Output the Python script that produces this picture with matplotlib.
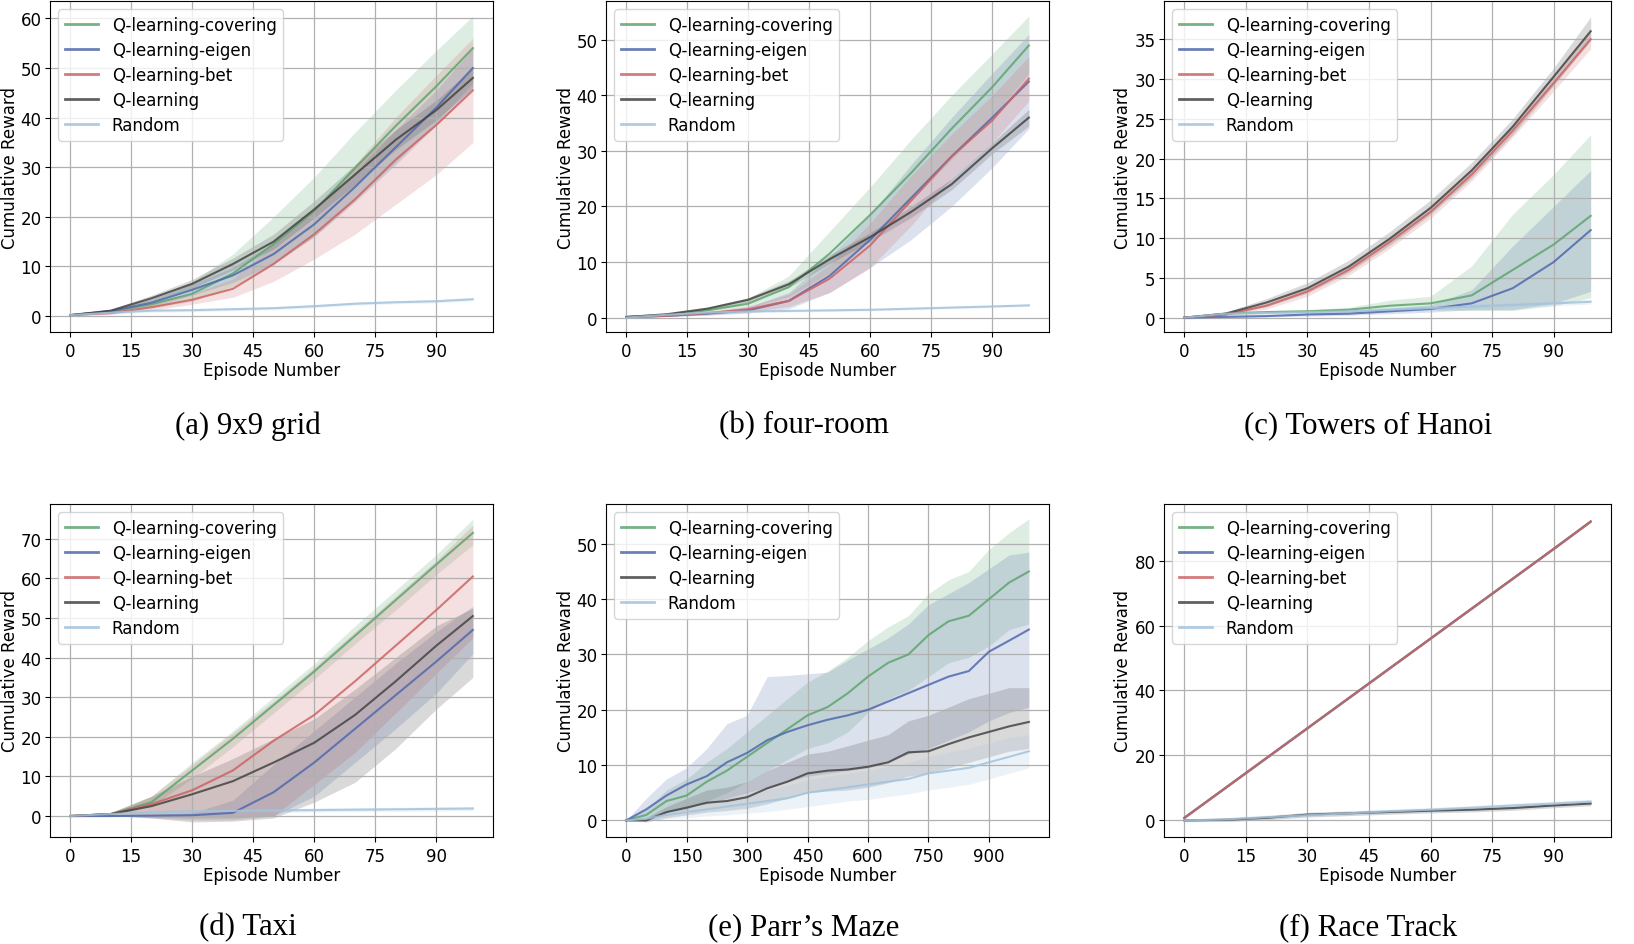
import numpy as np
import matplotlib
matplotlib.use('Agg')
import matplotlib.pyplot as plt

# episode knots
ep = [0, 10, 20, 30, 40, 50, 60, 70, 80, 90, 99]
ep_maze = [0, 50, 100, 150, 200, 250, 300, 350, 400, 450, 500, 550, 600,
           650, 700, 750, 800, 850, 900, 950, 999]

labels = ['Q-learning-covering', 'Q-learning-eigen', 'Q-learning-bet',
          'Q-learning', 'Random']
colors = ['#5ea56e', '#5069ad', '#cc6464', '#444444', '#a3c3dd']

# (a) 9x9 grid
a_cov = [0.2, 0.9, 2.4, 4.5, 8.6, 14.5, 21.2, 29.8, 38.3, 46.3, 54]
a_cov_lo = [0.1, 0.6, 1.6, 3.0, 6.0, 10.5, 16.0, 23.5, 31, 39, 47]
a_cov_hi = [0.3, 1.3, 3.5, 7.0, 12.5, 20, 28, 37, 45.5, 53.5, 60.5]
a_eig = [0.2, 1.0, 2.7, 5.3, 8.2, 12.5, 18.5, 26, 34, 42, 50]
a_eig_lo = [0.1, 0.7, 2.0, 4.2, 6.8, 10.5, 16, 23, 30.5, 38.5, 46]
a_eig_hi = [0.3, 1.3, 3.4, 6.4, 9.8, 14.8, 21.5, 29, 37.5, 45.5, 54]
a_bet = [0.2, 0.6, 1.8, 3.3, 5.5, 10.5, 16.5, 23.5, 31.5, 38.5, 45.5]
a_bet_lo = [0.1, 0.4, 1.2, 2.4, 3.8, 7, 11.5, 16.5, 22.5, 28.5, 35]
a_bet_hi = [0.3, 0.9, 2.6, 4.5, 7.5, 14.5, 21.5, 30.5, 40, 48.5, 56]
a_ql = [0.2, 1.1, 3.6, 6.5, 10.5, 15, 21.5, 28.5, 35.5, 41.5, 48]
a_ql_lo = [0.1, 0.8, 3.0, 5.6, 9.3, 13.5, 19.8, 26.5, 33.5, 39.5, 46]
a_ql_hi = [0.3, 1.4, 4.2, 7.4, 11.7, 16.5, 23.2, 30.5, 37.5, 43.5, 50]
a_rnd = [0.2, 0.7, 1.1, 1.2, 1.4, 1.6, 2.0, 2.5, 2.8, 3.0, 3.4]
a_rnd_lo = [0.0, 0.4, 0.8, 0.9, 1.1, 1.3, 1.7, 2.2, 2.5, 2.7, 3.1]
a_rnd_hi = [0.4, 1.0, 1.4, 1.5, 1.7, 1.9, 2.3, 2.8, 3.1, 3.3, 3.7]

# (b) four-room
b_cov = [0.1, 0.5, 1.3, 2.5, 5.5, 11.5, 18.5, 26, 34, 41.5, 49]
b_cov_lo = [0, 0.3, 0.9, 1.8, 3.8, 8, 14, 21, 28.5, 36, 44]
b_cov_hi = [0.2, 0.7, 1.8, 3.5, 7.5, 15.5, 23.5, 32, 40, 47.5, 54.3]
b_eig = [0.1, 0.3, 0.7, 1.3, 3.0, 7.5, 14, 21.5, 29, 36, 42.5]
b_eig_lo = [0, 0.2, 0.4, 0.8, 1.6, 4.5, 9, 14, 20, 27, 34]
b_eig_hi = [0.2, 0.4, 1.0, 1.9, 4.5, 11, 18.5, 27.5, 36, 44, 51]
b_bet = [0.1, 0.3, 0.8, 1.5, 3.0, 7, 13, 21, 29, 35.5, 43]
b_bet_lo = [0, 0.2, 0.5, 1.0, 2.0, 4.5, 9, 16.5, 25, 31.5, 39]
b_bet_hi = [0.2, 0.4, 1.1, 2.0, 4.2, 9.5, 17, 25.5, 33, 40, 47]
b_ql = [0.1, 0.6, 1.6, 3.2, 6.0, 10.5, 14.5, 19, 24, 30.5, 36]
b_ql_lo = [0, 0.4, 1.3, 2.8, 5.4, 9.7, 13.7, 18, 23, 29.5, 34.5]
b_ql_hi = [0.2, 0.8, 1.9, 3.6, 6.6, 11.3, 15.3, 20, 25, 31.5, 37.5]
b_rnd = [0, 0.5, 0.9, 1.1, 1.2, 1.3, 1.4, 1.6, 1.8, 2.0, 2.2]
b_rnd_lo = [-0.2, 0.3, 0.7, 0.9, 1.0, 1.1, 1.2, 1.4, 1.6, 1.8, 2.0]
b_rnd_hi = [0.2, 0.7, 1.1, 1.3, 1.4, 1.5, 1.6, 1.8, 2.0, 2.2, 2.4]

# (c) Towers of Hanoi
c_cov = [0, 0.5, 0.7, 0.8, 1.0, 1.5, 1.8, 2.8, 6.0, 9.2, 12.8]
c_cov_lo = [0, 0.3, 0.5, 0.6, 0.7, 0.9, 1.0, 0.9, 0.9, 1.5, 2.5]
c_cov_hi = [0, 0.7, 0.9, 1.0, 1.3, 2.2, 2.7, 6.5, 13, 18, 23]
c_eig = [0, 0.1, 0.2, 0.4, 0.5, 0.8, 1.1, 1.8, 3.7, 7.0, 11]
c_eig_lo = [0, 0.0, 0.1, 0.2, 0.3, 0.5, 0.7, 1.0, 1.0, 1.8, 3.3]
c_eig_hi = [0, 0.2, 0.3, 0.6, 0.8, 1.2, 1.6, 3.5, 9.0, 14, 18.5]
c_bet = [0, 0.4, 1.5, 3.3, 6.0, 9.5, 13.3, 18, 23.5, 29.5, 35]
c_bet_lo = [0, 0.3, 1.1, 2.7, 5.3, 8.7, 12.5, 17.2, 22.7, 28.5, 33.8]
c_bet_hi = [0, 0.5, 1.8, 3.8, 6.6, 10.2, 14.1, 18.8, 24.3, 30.5, 36.2]
c_ql = [0, 0.5, 1.9, 3.7, 6.4, 9.9, 13.8, 18.5, 24, 30.3, 36]
c_ql_lo = [0, 0.3, 1.4, 3.1, 5.7, 9.1, 13, 17.6, 23, 29.2, 34.8]
c_ql_hi = [0, 0.7, 2.4, 4.4, 7.2, 10.8, 14.8, 19.5, 25, 31.4, 37.8]
c_rnd = [0, 0.5, 0.6, 0.7, 0.8, 1.0, 1.2, 1.4, 1.6, 1.8, 2.0]
c_rnd_lo = [-0.2, 0.2, 0.3, 0.4, 0.5, 0.7, 0.9, 1.1, 1.3, 1.5, 1.7]
c_rnd_hi = [0.2, 0.8, 0.9, 1.0, 1.1, 1.3, 1.5, 1.7, 1.9, 2.1, 2.3]

# (d) Taxi
d_cov = [0, 0.5, 3.5, 11.5, 19.5, 28, 36.5, 45.5, 54.5, 63.5, 71.5]
d_cov_lo = [0, 0.3, 2.5, 9.5, 17.5, 26, 34.5, 43.5, 52, 61, 68.5]
d_cov_hi = [0, 0.8, 5, 13.5, 21.5, 30, 38.5, 48, 57, 66, 75]
d_eig = [0, 0, 0.1, 0.2, 0.8, 6, 13.5, 22, 30.5, 39, 47]
d_eig_lo = [0, 0, -0.3, -0.5, -0.5, 0, 5, 13.5, 22, 31, 41]
d_eig_hi = [0, 0.1, 0.4, 0.8, 4, 13, 21.5, 30, 38.5, 46.5, 53]
d_bet = [0, 0.5, 3.0, 6.5, 11.5, 19, 25.5, 34, 43, 52, 60.5]
d_bet_lo = [0, 0.1, -0.5, -1.0, -1.0, 0, 8, 16, 26, 36, 45]
d_bet_hi = [0, 0.8, 5, 13, 21, 29, 37.5, 46.5, 55.5, 64.5, 73.5]
d_ql = [0, 0.5, 2.5, 5.5, 8.8, 13.5, 18.5, 25.5, 34, 43, 50.5]
d_ql_lo = [0, 0.2, -0.5, -1.5, -1.3, -0.5, 3.5, 8.5, 17, 27, 35]
d_ql_hi = [0, 0.9, 5, 10, 14.5, 19.5, 24.5, 32, 40, 48, 52.5]
d_rnd = [0, 0.5, 0.9, 1.2, 1.3, 1.4, 1.5, 1.6, 1.7, 1.8, 1.9]
d_rnd_lo = [-0.4, 0.1, 0.4, 0.7, 0.8, 0.9, 1.0, 1.1, 1.2, 1.3, 1.4]
d_rnd_hi = [0.4, 0.9, 1.4, 1.7, 1.8, 1.9, 2.0, 2.1, 2.2, 2.3, 2.4]

# (e) Parr's Maze (no bet curve)
e_cov = [0, 1.0, 3.5, 4.5, 7.0, 9.0, 11.5, 14.0, 16.5, 19.0, 20.5, 23.0,
         26.0, 28.5, 30.0, 33.5, 36.0, 37.0, 40.0, 43.0, 45.0]
e_cov_lo = [0, 0.2, 1.5, 2.0, 3.5, 5.0, 7.0, 9.0, 11.0, 13.0, 14.0, 16.0,
            19.5, 22.0, 23.5, 26.0, 28.5, 29.5, 31.5, 34.5, 35.5]
e_cov_hi = [0, 2.0, 5.5, 7.5, 10.5, 13.0, 16.0, 19.0, 22.0, 25.0, 27.0, 29.5,
            32.5, 35.0, 37.0, 41.0, 43.5, 45.0, 49.0, 52.0, 54.5]
e_eig = [0, 2.0, 4.5, 6.5, 8.0, 10.5, 12.2, 14.5, 16.0, 17.2, 18.2, 19.0,
         20.0, 21.5, 23.0, 24.5, 26.0, 27.0, 30.5, 32.5, 34.5]
e_eig_lo = [0, 0.3, 1.5, 2.5, 3.0, 4.0, 5.0, 6.0, 7.0, 8.0, 8.5, 9.0,
            9.5, 10.5, 12, 13, 14.5, 16, 18, 19.5, 20.5]
e_eig_hi = [0, 4, 7.5, 9.5, 13, 17.5, 19, 26, 26.2, 26.5, 26.8, 29,
            31, 33, 35.5, 39, 41, 43, 45.5, 48, 48.5]
e_ql = [0, 0, 1.5, 2.3, 3.2, 3.5, 4.2, 5.8, 7.0, 8.5, 9.0, 9.2,
        9.7, 10.5, 12.3, 12.5, 13.8, 15.0, 16.0, 17.0, 17.8]
e_ql_lo = [0, -0.3, 0.5, 1.0, 1.5, 1.8, 2.2, 3.0, 4.0, 5.0, 5.3, 5.5,
           6.0, 6.8, 8.0, 8.5, 9.5, 10.5, 11.5, 12.5, 13.0]
e_ql_hi = [0, 0.5, 2.5, 4.0, 5.5, 6.0, 7.0, 9.0, 10.5, 12.0, 12.5, 13.5,
           14.5, 15.5, 18.0, 19.0, 20.5, 22.0, 23.0, 24.0, 24.0]
e_rnd = [0, 0.3, 1.0, 1.5, 2.0, 2.5, 3.0, 3.5, 4.0, 5.0, 5.5, 6.0,
         6.5, 7.0, 7.5, 8.5, 9.0, 9.5, 10.5, 11.5, 12.5]
e_rnd_lo = [0, 0, 0.3, 0.5, 0.8, 1.0, 1.3, 1.6, 2.0, 2.5, 3.0, 3.5,
            3.8, 4.3, 4.8, 5.5, 6.0, 6.5, 7.5, 8.5, 9.5]
e_rnd_hi = [0, 0.7, 1.8, 2.6, 3.3, 4.0, 4.8, 5.5, 6.3, 7.3, 8.0, 8.5,
            9.0, 9.8, 10.5, 11.5, 12.3, 13, 14, 15, 15.5]

# (f) Race Track: covering, eigen and bet overlap
f_opt = [0.8, 10, 19.2, 28.4, 37.6, 46.8, 56, 65.2, 74.4, 83.6, 92]
f_opt_lo = [0.5, 9.7, 18.9, 28.1, 37.3, 46.5, 55.7, 64.9, 74.1, 83.3, 91.7]
f_opt_hi = [1.1, 10.3, 19.5, 28.7, 37.9, 47.1, 56.3, 65.5, 74.7, 83.9, 92.3]
f_ql = [0, 0.2, 0.8, 1.8, 2.2, 2.6, 3.0, 3.3, 3.8, 4.6, 5.2]
f_ql_lo = [-0.3, -0.3, 0.2, 1.1, 1.5, 1.9, 2.3, 2.6, 3.1, 3.9, 4.5]
f_ql_hi = [0.3, 0.7, 1.4, 2.5, 2.9, 3.3, 3.7, 4.0, 4.5, 5.3, 5.9]
f_rnd = [0, 0.3, 1.0, 1.6, 2.2, 2.8, 3.3, 3.9, 4.6, 5.2, 5.8]
f_rnd_lo = [-0.5, -0.3, 0.3, 0.9, 1.5, 2.1, 2.6, 3.2, 3.9, 4.5, 5.1]
f_rnd_hi = [0.5, 0.9, 1.7, 2.3, 2.9, 3.5, 4.0, 4.6, 5.3, 5.9, 6.5]

captions = ['(a) 9x9 grid', '(b) four-room', '(c) Towers of Hanoi',
            '(d) Taxi', '(e) Parr\u2019s Maze', '(f) Race Track']

panels = [
    (ep, [(a_cov, a_cov_lo, a_cov_hi, 0), (a_eig, a_eig_lo, a_eig_hi, 1),
          (a_bet, a_bet_lo, a_bet_hi, 2), (a_ql, a_ql_lo, a_ql_hi, 3),
          (a_rnd, a_rnd_lo, a_rnd_hi, 4)],
     (-3.2, 63.5), np.arange(0, 61, 10), np.arange(0, 91, 15)),
    (ep, [(b_cov, b_cov_lo, b_cov_hi, 0), (b_eig, b_eig_lo, b_eig_hi, 1),
          (b_bet, b_bet_lo, b_bet_hi, 2), (b_ql, b_ql_lo, b_ql_hi, 3),
          (b_rnd, b_rnd_lo, b_rnd_hi, 4)],
     (-2.6, 57.0), np.arange(0, 51, 10), np.arange(0, 91, 15)),
    (ep, [(c_cov, c_cov_lo, c_cov_hi, 0), (c_eig, c_eig_lo, c_eig_hi, 1),
          (c_bet, c_bet_lo, c_bet_hi, 2), (c_ql, c_ql_lo, c_ql_hi, 3),
          (c_rnd, c_rnd_lo, c_rnd_hi, 4)],
     (-1.8, 39.8), np.arange(0, 36, 5), np.arange(0, 91, 15)),
    (ep, [(d_cov, d_cov_lo, d_cov_hi, 0), (d_eig, d_eig_lo, d_eig_hi, 1),
          (d_bet, d_bet_lo, d_bet_hi, 2), (d_ql, d_ql_lo, d_ql_hi, 3),
          (d_rnd, d_rnd_lo, d_rnd_hi, 4)],
     (-5.3, 78.8), np.arange(0, 71, 10), np.arange(0, 91, 15)),
    (ep_maze, [(e_cov, e_cov_lo, e_cov_hi, 0), (e_eig, e_eig_lo, e_eig_hi, 1),
               (e_ql, e_ql_lo, e_ql_hi, 3), (e_rnd, e_rnd_lo, e_rnd_hi, 4)],
     (-3.0, 57.2), np.arange(0, 51, 10), np.arange(0, 901, 150)),
    (ep, [(f_opt, f_opt_lo, f_opt_hi, 0), (f_opt, f_opt_lo, f_opt_hi, 1),
          (f_opt, f_opt_lo, f_opt_hi, 2), (f_ql, f_ql_lo, f_ql_hi, 3),
          (f_rnd, f_rnd_lo, f_rnd_hi, 4)],
     (-5.1, 97.4), np.arange(0, 81, 20), np.arange(0, 91, 15)),
]

W, H = 1634, 945
fig = plt.figure(figsize=(W / 100, H / 100), dpi=100)

col_left = [50, 606, 1164]
col_w = [443, 443, 447]
row_top = [2, 505]
row_h = [331, 333]
cap_x = [248, 804, 1368]
cap_y = [426, 928]

for k, (x, series, ylim, yt, xt) in enumerate(panels):
    r, c = divmod(k, 3)
    ax = fig.add_axes([col_left[c] / W, 1 - (row_top[r] + row_h[r]) / H,
                       col_w[c] / W, row_h[r] / H])
    for mean, lo, hi, ci in series:
        ax.fill_between(x, lo, hi, color=colors[ci], alpha=0.2, linewidth=0)
        ax.plot(x, mean, color=colors[ci], lw=1.5, alpha=0.85,
                label=labels[ci])
    ax.set_xlim(-0.05 * x[-1], 1.05 * x[-1])
    ax.set_ylim(*ylim)
    ax.set_yticks(yt)
    ax.set_xticks(xt)
    ax.grid(True, color='#b0b0b0', lw=0.9)
    ax.tick_params(labelsize=12)
    ax.tick_params(axis='y', pad=2.5)
    ax.set_xlabel('Episode Number', fontsize=12, labelpad=1)
    ax.set_ylabel('Cumulative Reward', fontsize=12)
    ax.yaxis.set_label_coords(-0.071, 0.5)
    leg = ax.legend(loc='upper left', fontsize=12, labelspacing=0.42)
    for ln in leg.get_lines():
        ln.set_linewidth(2.0)
    fig.text(cap_x[c] / W, 1 - cap_y[r] / H, captions[k], ha='center',
             va='center', fontsize=22.2, family='Liberation Serif')

fig.savefig('out.png', dpi=100)
